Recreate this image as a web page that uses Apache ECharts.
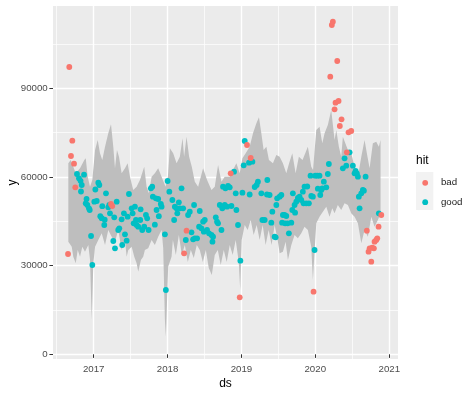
<!DOCTYPE html>
<html><head><meta charset="utf-8">
<script src="https://cdn.jsdelivr.net/npm/echarts@6/dist/echarts.min.js"></script>
<style>html,body{margin:0;padding:0;background:#fff}#c{width:474px;height:395px}</style>
</head><body><div id="c"></div>
<script>
// ---- data (dates as decimal years) ----
const goodYears = [2016.774,2016.801,2016.822,2016.828,2016.838,2016.869,2016.892,2016.903,2016.914,2016.936,2016.946,2016.964,2016.981,
2017.008,2017.022,2017.041,2017.062,2017.076,2017.089,2017.108,2017.116,2017.143,2017.149,2017.166,2017.197,2017.211,2017.220,2017.265,2017.278,2017.288,2017.311,2017.332,2017.346,2017.378,2017.386,2017.409,2017.423,2017.446,2017.459,2017.477,2017.514,2017.527,2017.541,2017.558,2017.572,2017.581,2017.603,2017.630,2017.635,2017.657,2017.684,2017.707,2017.724,2017.743,2017.774,2017.792,2017.801,2017.828,2017.842,2017.851,2017.873,2017.882,2017.909,2017.919,2017.964,2017.977,
2018.001,2018.024,2018.065,2018.089,2018.099,2018.122,2018.132,2018.153,2018.166,2018.189,2018.211,2018.247,2018.278,2018.301,2018.324,2018.346,2018.359,2018.369,2018.400,2018.427,2018.436,2018.459,2018.481,2018.491,2018.504,2018.535,2018.562,2018.595,2018.608,2018.616,2018.653,2018.670,2018.684,2018.707,2018.730,2018.741,2018.751,2018.774,2018.784,2018.805,2018.819,2018.842,2018.865,2018.900,2018.923,2018.932,2018.954,2018.986,
2019.014,2019.031,2019.045,2019.103,2019.112,2019.149,2019.180,2019.207,2019.224,2019.270,2019.284,2019.315,2019.346,2019.351,2019.382,2019.405,2019.419,2019.450,2019.464,2019.473,2019.484,2019.518,2019.541,2019.551,2019.562,2019.585,2019.592,2019.608,2019.626,2019.643,2019.676,2019.689,2019.697,2019.720,2019.727,2019.743,2019.765,2019.788,2019.811,2019.832,2019.842,2019.855,2019.878,2019.892,2019.914,2019.936,2019.946,2019.968,2019.991,
2020.000,2020.027,2020.035,2020.058,2020.068,2020.081,2020.095,2020.116,2020.149,2020.170,2020.184,2020.373,2020.396,2020.419,2020.464,2020.508,2020.531,2020.545,2020.562,2020.576,2020.589,2020.599,2020.622,2020.643,2020.657,2020.680,2020.859];
const goodValues = [60980,59520,58660,55060,57260,60740,51070,52520,50490,49380,48800,40010,30200,
51610,55740,51850,58030,57260,46720,46040,50100,43730,45520,54450,49720,50490,47690,38320,46330,35850,51610,42040,42610,45660,36970,47690,40580,38420,46540,54210,49380,47690,44300,49920,45420,43730,43150,45420,49040,42040,43150,47110,46000,42040,56140,56680,53300,43830,52760,48800,52520,46720,50830,49920,40580,21750,
58610,54990,52180,45420,49920,49380,47690,51400,49380,56140,49380,38660,47110,48230,41260,38890,50490,39230,39230,43150,48460,42610,44850,41460,45420,42040,40920,40350,38080,39770,46330,44850,44300,50490,42040,49380,56680,50490,56140,49920,56920,56480,50150,61760,54450,48800,43730,31660,
54650,63920,72140,64800,54040,65140,56580,57260,58370,54450,45420,45420,54040,58950,53880,44510,48230,39770,39570,50490,52760,53300,53880,44510,47110,47110,44300,46770,44300,40920,44510,48800,54450,50490,47890,51610,52860,53300,52180,54990,51070,56680,51070,56750,51070,60400,53540,53300,35270,
60400,60400,56000,60400,53880,55570,56140,58370,56480,60980,64360,62900,66290,63780,68320,63780,61210,61990,61210,60060,53300,49380,54450,55570,55330,60060,47690];

const badYears = [2016.653,2016.670,2016.693,2016.711,2016.734,2016.751,2017.234,2017.251,2018.224,2018.257,2018.855,2018.977,2019.076,2019.126,2019.977,
2020.203,2020.224,2020.238,2020.261,2020.274,2020.297,2020.315,2020.332,2020.355,2020.427,2020.450,2020.486,2020.697,2020.720,2020.734,2020.757,2020.770,2020.792,2020.801,2020.824,2020.838,2020.855,2020.892];
const badValues = [33920,97170,67060,72240,64460,56480,50830,50150,34160,41800,61210,19280,70790,66390,21170,
93880,111370,112480,82860,85090,99190,85670,77210,79480,68320,75080,75520,41800,34700,35850,31320,36050,35850,38080,38660,39230,43150,47110];

const ribbonUpperYears = [2016.657,2016.689,2016.724,2016.757,2016.815,2016.873,2016.892,2016.919,2016.950,2016.981,
2017.018,2017.054,2017.085,2017.116,2017.153,2017.197,2017.234,2017.265,2017.288,2017.315,2017.342,2017.378,2017.423,2017.459,2017.491,2017.535,2017.581,2017.626,2017.684,2017.716,2017.747,2017.784,2017.828,2017.873,2017.919,2017.973,
2018.004,2018.031,2018.076,2018.122,2018.166,2018.203,2018.224,2018.257,2018.292,2018.328,2018.369,2018.414,2018.481,2018.535,2018.595,2018.639,2018.684,2018.730,2018.774,2018.842,2018.886,2018.932,2018.977,
2019.014,2019.058,2019.112,2019.157,2019.203,2019.238,2019.270,2019.301,2019.338,2019.373,2019.427,2019.473,2019.518,2019.562,2019.608,2019.646,2019.689,2019.734,2019.778,2019.828,2019.900,2019.946,2019.970,
2020.014,2020.058,2020.095,2020.126,2020.170,2020.216,2020.261,2020.284,2020.319,2020.351,2020.373,2020.441,2020.486,2020.531,2020.576,2020.622,2020.666,2020.697,2020.734,2020.778,2020.824,2020.859,2020.882];
const ribbonUpperValues = [64600,65710,63450,61210,62900,65710,66290,60060,56680,58950,
69090,72470,67980,65710,70210,74740,77790,70210,62900,69090,66830,61210,62900,64600,60060,55570,56680,58950,63450,56680,54450,60060,61210,62900,60060,56680,
60000,69670,67980,64600,66830,73050,66830,73590,66830,63450,58370,56680,62900,58950,55570,56680,64020,58370,60060,60060,62330,64600,61210,
66290,67980,70210,74740,78120,80150,74740,69090,70210,65710,64600,67400,66830,64600,61210,64600,67980,61210,66830,65710,70210,63450,62330,
75860,76980,71360,74740,77550,82620,72470,75860,70210,66830,73590,69090,67980,63450,60060,66830,72470,67980,62900,71360,71900,70210,72470];

const ribbonLowerYears = [2016.657,2016.703,2016.724,2016.757,2016.784,2016.815,2016.846,2016.882,2016.927,2016.950,2016.973,2016.995,
2017.018,2017.062,2017.108,2017.153,2017.197,2017.243,2017.288,2017.332,2017.378,2017.423,2017.446,2017.468,2017.514,2017.549,2017.581,2017.603,2017.639,2017.670,2017.693,2017.738,2017.784,2017.828,2017.873,2017.919,2017.941,2017.964,2017.977,
2018.008,2018.054,2018.072,2018.112,2018.153,2018.193,2018.234,2018.274,2018.315,2018.355,2018.396,2018.436,2018.477,2018.518,2018.558,2018.599,2018.639,2018.680,2018.720,2018.761,2018.801,2018.842,2018.882,2018.923,2018.964,2018.984,
2019.004,2019.045,2019.085,2019.126,2019.166,2019.207,2019.247,2019.288,2019.328,2019.369,2019.409,2019.450,2019.491,2019.518,2019.562,2019.599,2019.630,2019.676,2019.720,2019.765,2019.811,2019.855,2019.900,2019.946,2019.968,
2020.014,2020.058,2020.103,2020.149,2020.193,2020.230,2020.261,2020.305,2020.351,2020.396,2020.441,2020.486,2020.531,2020.576,2020.622,2020.666,2020.711,2020.757,2020.801,2020.846,2020.882];
const ribbonLowerValues = [38080,36390,33010,30780,35270,33010,36390,34700,36970,31890,11600,30780,
36390,38660,40920,36970,42040,39770,38080,42040,35270,38660,33010,35270,36390,33010,30780,27940,31890,33010,35270,35850,38660,36970,39770,42040,35850,11600,5950,
29630,33010,38660,33580,40350,33580,36970,31220,35270,32570,36970,35270,31220,35270,29190,26820,33580,35270,30210,35270,31220,36970,33580,38660,31220,21750,
38660,43730,42040,45420,40350,43730,38660,43730,36970,42040,36970,43730,38660,34160,34700,38080,31890,36970,40350,39230,40920,43150,42040,36390,25130,
44300,46540,48230,49920,46540,49380,47690,50490,48800,51070,50490,47690,46540,44300,37540,42040,39770,46540,43150,45420,47690];

// ---- axes ----
const xRange = [2016.45, 2021.118];
const yRange = [-1590, 117800];
const xTickYears = [2017, 2018, 2019, 2020, 2021];
const xTickLabels = ['2017', '2018', '2019', '2020', '2021'];
const xMinorYears = [2016.5, 2017.5, 2018.5, 2019.5, 2020.5];
const yTicks = [0, 30000, 60000, 90000];
const yTickLabels = ['0', '30000', '60000', '90000'];
const yMinorTicks = [15000, 45000, 75000, 105000];
const seriesNames = ['bad', 'good'];
const seriesColors = {bad: '#F8766D', good: '#00BFC4'};

function ts(d) {
  const y = Math.floor(d);
  const s = Date.UTC(y, 0, 1), e = Date.UTC(y + 1, 0, 1);
  return s + (d - y) * (e - s);
}
function yearStart(y) { return Date.UTC(y, 0, 1); }
function midYear(d) { return Date.UTC(Math.floor(d), 6, 2); }

const FONT = 'Liberation Sans, Arial, sans-serif';
const xMajor = xTickYears.map(yearStart);
const xMinor = xMinorYears.map(midYear);

const chart = echarts.init(document.getElementById('c'), null, {renderer: 'canvas'});
const option = {
  animation: false,
  backgroundColor: '#ffffff',
  textStyle: {fontFamily: FONT},
  grid: {left: 53, right: 76, top: 6, bottom: 36, show: true, backgroundColor: '#EBEBEB', borderWidth: 0, containLabel: false, outerBoundsMode: 'none'},
  xAxis: [{
    type: 'value', min: ts(xRange[0]), max: ts(xRange[1]),
    name: 'ds', nameLocation: 'middle', nameGap: 19, nameMoveOverlap: false,
    nameTextStyle: {fontSize: 12, color: '#000', fontFamily: FONT},
    axisLine: {show: false},
    axisTick: {show: true, customValues: xMajor, length: 3.6, lineStyle: {color: '#333333', width: 1}},
    axisLabel: {customValues: xMajor, margin: 5, fontSize: 9.7, color: '#4D4D4D', fontFamily: FONT,
      formatter: function (v) { const i = xMajor.indexOf(v); return i >= 0 ? xTickLabels[i] : ''; }},
    splitLine: {show: true, lineStyle: {color: '#ffffff', width: 1.4}}
  }, {
    type: 'value', min: ts(xRange[0]), max: ts(xRange[1]), position: 'bottom',
    axisLine: {show: false}, axisLabel: {show: false},
    axisTick: {show: false, customValues: xMinor},
    splitLine: {show: true, lineStyle: {color: '#ffffff', width: 0.7}}
  }],
  yAxis: [{
    type: 'value', min: yRange[0], max: yRange[1],
    name: 'y', nameLocation: 'middle', nameGap: 34, nameRotate: 90, nameMoveOverlap: false,
    nameTextStyle: {fontSize: 12, color: '#000', fontFamily: FONT},
    axisLine: {show: false},
    axisTick: {show: true, customValues: yTicks, length: 3.6, lineStyle: {color: '#333333', width: 1}},
    axisLabel: {customValues: yTicks, margin: 5.3, fontSize: 9.7, color: '#4D4D4D', fontFamily: FONT,
      formatter: function (v) { const i = yTicks.indexOf(v); return i >= 0 ? yTickLabels[i] : ''; }},
    splitLine: {show: true, lineStyle: {color: '#ffffff', width: 1.4}}
  }, {
    type: 'value', min: yRange[0], max: yRange[1], position: 'left',
    axisLine: {show: false}, axisLabel: {show: false},
    axisTick: {show: false, customValues: yMinorTicks},
    splitLine: {show: true, lineStyle: {color: '#ffffff', width: 0.7}}
  }],
  legend: {
    data: seriesNames, orient: 'vertical', left: 422.3, top: 176.8,
    itemWidth: 21.4, itemHeight: 5.8, itemGap: 7.4, icon: 'circle', selectedMode: false,
    textStyle: {fontSize: 9.7, color: '#1A1A1A', fontFamily: FONT, lineHeight: 12}, padding: 0, z: 5
  },
  graphic: [
    {type: 'rect', shape: {x: 416, y: 172, width: 17.3, height: 38}, style: {fill: '#F2F2F2'}, z: 1, silent: true},
    {type: 'text', x: 416, y: 161, style: {text: 'hit', fontSize: 12, fill: '#000', fontFamily: FONT, verticalAlign: 'middle', align: 'left'}, z: 1, silent: true}
  ],
  series: [
    {
      type: 'custom', name: 'ribbon', silent: true, xAxisIndex: 0, yAxisIndex: 0, z: 1,
      data: [[ts(ribbonUpperYears[0]), ribbonUpperValues[0]]],
      renderItem: function (params, api) {
        const pts = [];
        for (let i = 0; i < ribbonUpperYears.length; i++) pts.push(api.coord([ts(ribbonUpperYears[i]), ribbonUpperValues[i]]));
        for (let i = ribbonLowerYears.length - 1; i >= 0; i--) pts.push(api.coord([ts(ribbonLowerYears[i]), ribbonLowerValues[i]]));
        return {type: 'polygon', shape: {points: pts}, style: {fill: '#BEBEBE', stroke: null}};
      }
    },
    {
      type: 'scatter', name: 'good', xAxisIndex: 0, yAxisIndex: 0, z: 3,
      symbol: 'circle', symbolSize: 5.8, itemStyle: {color: seriesColors.good, opacity: 1},
      data: goodYears.map((d, i) => [ts(d), goodValues[i]])
    },
    {
      type: 'scatter', name: 'bad', xAxisIndex: 0, yAxisIndex: 0, z: 4,
      symbol: 'circle', symbolSize: 5.8, itemStyle: {color: seriesColors.bad, opacity: 1},
      data: badYears.map((d, i) => [ts(d), badValues[i]])
    }
  ]
};
chart.setOption(option);
</script>
</body></html>
